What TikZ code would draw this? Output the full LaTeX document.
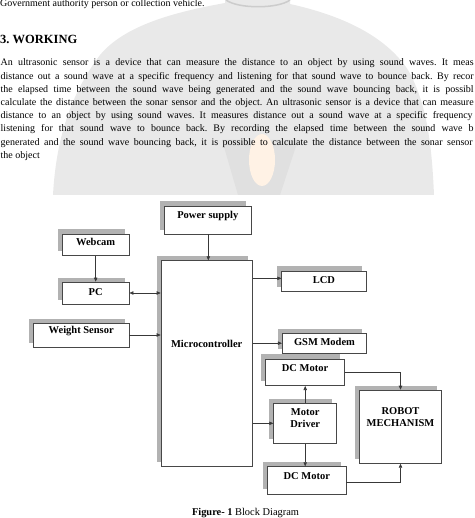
\documentclass[tikz,border=0pt]{standalone}
\usepackage{fontspec}
\setmainfont{Liberation Serif}
\usetikzlibrary{arrows.meta,shadows,calc}
\frenchspacing
\begin{document}
\begin{tikzpicture}[x=1pt,y=-1pt,
  blk/.style={draw=black!72, line width=0.7pt, fill=white, inner sep=0pt,
    drop shadow={shadow xshift=-4.5pt, shadow yshift=4.5pt, fill=black!30, opacity=1}},
  lbl/.style={inner sep=0pt, font=\fontsize{10.5}{12.6}\selectfont\bfseries, align=center},
  conn/.style={draw=black!78, line width=0.6pt, -{Triangle[length=4pt,width=3.4pt]}},
  ptext/.style={inner sep=0pt, anchor=base west, font=\fontsize{10}{12}\selectfont}]
\useasboundingbox (0,0) rectangle (474,518);
\clip (0,0) rectangle (474,518);
% watermark
\fill[gray!17] (53,195) .. controls (56,140) and (70,95) .. (100,55)
  .. controls (125,25) and (175,12) .. (225,3) -- (225,0) -- (290,0) -- (290,4)
  .. controls (340,15) and (385,35) .. (408,70)
  .. controls (428,105) and (432,150) .. (434,195) -- cycle;
\draw[gray!40, line width=1.5pt] (226,0) .. controls (238,9) and (278,9) .. (290,0);
\fill[gray!24] (222,140) -- (298,140) -- (280,195) -- (238,195) -- cycle;
\fill[orange!10] (262,160) ellipse (13 and 26);
% text
\node[ptext] (t0) at (0,7) {Government authority person or collection vehicle.};
\node[ptext, font=\fontsize{12.5}{14}\selectfont\bfseries] (t1) at (0,44) {3. WORKING};
\node[ptext] (p1) at (0.5,66) {\makebox[473pt][s]{An ultrasonic sensor is a device that can measure the distance to an object by using sound waves. It meas}};
\node[ptext] (p2) at (0.5,79.2) {\makebox[473pt][s]{distance out a sound wave at a specific frequency and listening for that sound wave to bounce back. By recor}};
\node[ptext] (p3) at (0.5,92.4) {\makebox[473pt][s]{the elapsed time between the sound wave being generated and the sound wave bouncing back, it is possibl}};
\node[ptext] (p4) at (0.5,105.6) {\makebox[473pt][s]{calculate the distance between the sonar sensor and the object. An ultrasonic sensor is a device that can measure}};
\node[ptext] (p5) at (0.5,118.8) {\makebox[472pt][s]{distance to an object by using sound waves. It measures distance out a sound wave at a specific frequency}};
\node[ptext] (p6) at (0.5,132) {\makebox[473pt][s]{listening for that sound wave to bounce back. By recording the elapsed time between the sound wave b}};
\node[ptext] (p7) at (0.5,145.2) {\makebox[472pt][s]{generated and the sound wave bouncing back, it is possible to calculate the distance between the sonar sensor}};
\node[ptext] (p8) at (0.5,158.4) {the object};
% blocks
\node[blk, minimum width=86.3pt, minimum height=28pt] (power) at (207.8,220) {};
\node[blk, minimum width=66.7pt, minimum height=21.7pt] (webcam) at (95.7,244.8) {};
\node[blk, minimum width=66.7pt, minimum height=22pt] (pc) at (95.7,293) {};
\node[blk, minimum width=95.7pt, minimum height=24pt] (weight) at (81.2,335) {};
\node[blk, minimum width=91.3pt, minimum height=206pt] (micro) at (206.7,363.7) {};
\node[blk, minimum width=84.3pt, minimum height=20.7pt] (lcd) at (323.9,281.3) {};
\node[blk, minimum width=84.4pt, minimum height=20.3pt] (gsm) at (324.5,343.2) {};
\node[blk, minimum width=78.6pt, minimum height=26.7pt] (dc1) at (305,372.3) {};
\node[blk, minimum width=63pt, minimum height=40pt] (driver) at (305.2,423.3) {};
\node[blk, minimum width=78.3pt, minimum height=27.3pt] (dc2) at (306.8,480.3) {};
\node[blk, minimum width=82.4pt, minimum height=73.3pt] (robot) at (400.5,426.7) {};
% labels
\node[lbl] (lpower) at (207.8,215.7) {Power supply};
\node[lbl] (lwebcam) at (95.7,242.3) {Webcam};
\node[lbl] (lpc) at (95.7,291.7) {PC};
\node[lbl] (lweight) at (81.2,331) {Weight Sensor};
\node[lbl] (lmicro) at (206.7,344.3) {Microcontroller};
\node[lbl] (llcd) at (323.9,279.7) {LCD};
\node[lbl] (lgsm) at (324.5,341.7) {GSM Modem};
\node[lbl] (ldc1) at (305,368) {DC Motor};
\node[lbl] (ldriver) at (305.2,418.3) {Motor\\Driver};
\node[lbl] (ldc2) at (306.8,476) {DC Motor};
\node[lbl] (lrobot) at (400.5,417.2) {ROBOT\\MECHANISM};
\node[inner sep=0pt, font=\fontsize{10.4}{12}\selectfont] (cap) at (245.5,512.7) {\textbf{Figure- 1} Block Diagram};
% connectors
\draw[conn] (webcam.south) -- (pc.north);
\draw[conn] ([xshift=0.5pt]power.south) -- ([xshift=0.5pt]power.south |- micro.north);
\draw[conn, {Triangle[length=4pt,width=3.4pt]}-{Triangle[length=4pt,width=3.4pt]}] (pc.east) -- (pc.east -| micro.west);
\draw[conn] (weight.east) -- (weight.east -| micro.west);
\draw[conn] ([yshift=3pt]lcd.west -| micro.east) -- ([yshift=3pt]lcd.west);
\draw[conn] (gsm.west -| micro.east) -- (gsm.west);
\draw[conn] (driver.west -| micro.east) -- (driver.west);
\draw[conn] (driver.north) -- (driver.north |- dc1.south);
\draw[conn] (driver.south) -- (driver.south |- dc2.north);
\draw[conn] (dc1.east) -| (robot.north);
\draw[conn] ([yshift=-2pt]dc2.east) -| (robot.south);
\end{tikzpicture}
\end{document}
